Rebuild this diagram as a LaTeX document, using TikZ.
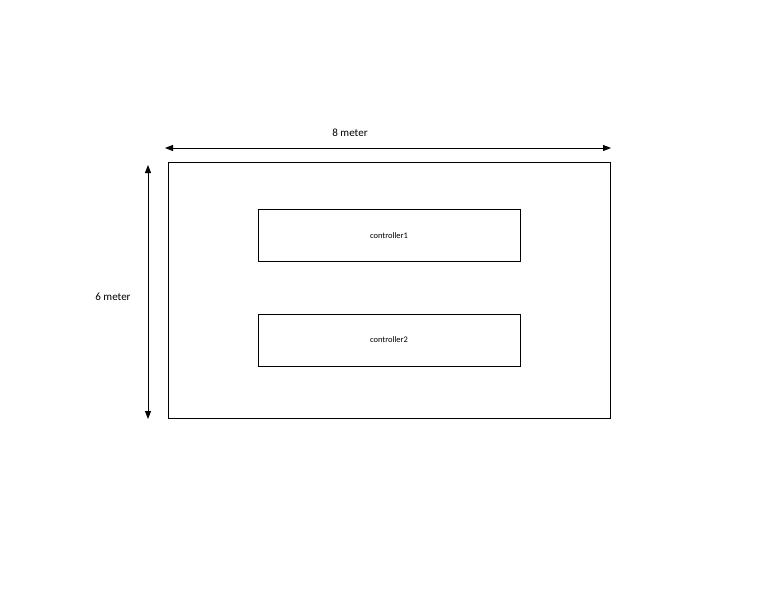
\documentclass[tikz,border=0pt]{standalone}
\usepackage{fontspec}
\setmainfont{Carlito}
\usetikzlibrary{arrows.meta}

\begin{document}
\begin{tikzpicture}[x=1pt,y=1pt,yscale=-1,xscale=1,line width=0.9pt,
  ctrl/.style={draw,minimum width=262pt,minimum height=52pt,inner sep=0pt,font=\fontsize{8.5}{10}\selectfont},
  dim/.style={{Triangle[length=8pt,width=6pt]}-{Triangle[length=8pt,width=6pt]}},
  lbl/.style={inner sep=0.75pt,font=\fontsize{11}{13}\selectfont}]
\useasboundingbox (0,0) rectangle (768,594);

%Shape: Rectangle
\draw (168,162) rectangle (610,418);
%Shape: Rectangle
\node[ctrl] (ctrl1) at (389,235.5) {controller1};
%Shape: Rectangle
\node[ctrl] (ctrl2) at (389,340) {controller2};

%Straight Lines
\coordinate (wl) at (165,148);
\coordinate (wr) at (611,148);
\draw[dim] (wl) -- (wr);
%Straight Lines
\coordinate (ht) at (148,165);
\coordinate (hb) at (148,419);
\draw[dim] (ht) -- (hb);

% Text Node
\node[lbl] (width) at (350,133) {8 meter};
% Text Node
\node[lbl] (height) at (113,297) {6 meter};

\end{tikzpicture}
\end{document}
